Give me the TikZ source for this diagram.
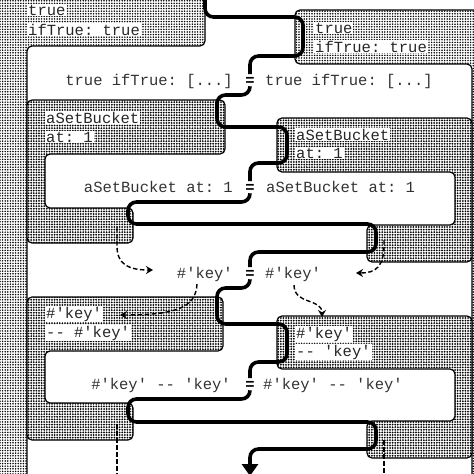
\documentclass[tikz,border=0pt]{standalone}
\usepackage{fontspec}
\setmonofont{Liberation Mono}
\usetikzlibrary{patterns.meta,arrows.meta}
\begin{document}
\begin{tikzpicture}[x=1pt,y=-1pt,
  shadeA/.style={draw=black,line width=1.2pt,rounded corners=5pt,preaction={fill=white},pattern={Dots[distance=2.6pt,radius=0.85pt]}},
  shadeB/.style={draw=black,line width=1.2pt,rounded corners=5pt,preaction={fill=white},pattern={Dots[distance=2.6pt,radius=1.0pt]}},
  lbl/.style={font=\ttfamily\fontsize{15.5}{20}\selectfont,fill=white,inner sep=1pt,anchor=base west,text=black!85},
  bodyl/.style={font=\ttfamily\fontsize{15.5}{20}\selectfont,inner sep=0pt,text=black!80,anchor=base east},
  bodyr/.style={font=\ttfamily\fontsize{15.5}{20}\selectfont,inner sep=0pt,text=black!80,anchor=base west},
  eqs/.style={font=\ttfamily\bfseries\fontsize{15.5}{20}\selectfont,inner sep=0pt,text height=9.2pt,text depth=0pt,minimum height=12pt},
  snake/.style={line width=3.6pt,rounded corners=8.5pt},
  flow/.style={line width=1.4pt,dash pattern=on 4.5pt off 2.5pt,-{Stealth[length=7pt,width=8pt]}},
  flowline/.style={line width=1.4pt,dash pattern=on 4.5pt off 2.5pt}]
\useasboundingbox (0,0) rectangle (474,474);
\clip (0,0) rectangle (474,474);
\fill[white] (0,0) rectangle (474,474);

% shaded frames
\path[shadeA] (-20,-20) -- (205,-20) -- (205,46) -- (27,46) -- (27,500) -- (-20,500) -- cycle;
\path[shadeA] (295,10) -- (500,10) -- (500,500) -- (472,500) -- (472,64) -- (295,64) -- cycle;
\path[shadeB] (27,100) -- (225,100) -- (225,154) -- (45,154) -- (45,208) -- (133,208) -- (133,243) -- (27,243) -- cycle;
\path[shadeB] (277,118) -- (472,118) -- (472,262) -- (367,262) -- (367,225) -- (455,225) -- (455,172) -- (277,172) -- cycle;
\path[shadeB] (27,297) -- (223,297) -- (223,351) -- (45,351) -- (45,403) -- (133,403) -- (133,440) -- (27,440) -- cycle;
\path[shadeB] (277,316) -- (472,316) -- (472,458) -- (367,458) -- (367,421) -- (455,421) -- (455,369) -- (277,369) -- cycle;

% frame labels
\node[lbl] (l0a) at (27,15) {true};
\node[lbl] (l0b) at (27,35) {ifTrue: true};
\node[lbl] (r0a) at (314,33) {true};
\node[lbl] (r0b) at (314,52) {ifTrue: true};
\node[lbl] (l1a) at (45,123) {aSetBucket};
\node[lbl] (l1b) at (45,142) {at: 1};
\node[lbl] (r1a) at (295,140) {aSetBucket};
\node[lbl] (r1b) at (295,158) {at: 1};
\node[lbl] (l2a) at (45,318) {\#'key'};
\node[lbl] (l2b) at (45,337) {-- \#'key'};
\node[lbl] (r2a) at (295,338) {\#'key'};
\node[lbl] (r2b) at (295,356) {-- 'key'};

% body texts
\node[bodyl] (t1l) at (233,85) {true ifTrue: [...]};
\node[bodyr] (t1r) at (265,85) {true ifTrue: [...]};
\node[bodyl] (t2l) at (233,192) {aSetBucket at: 1};
\node[bodyr] (t2r) at (266,192) {aSetBucket at: 1};
\node[bodyl] (t3l) at (233,278) {\#'key'};
\node[bodyr] (t3r) at (265,278) {\#'key'};
\node[bodyl] (t4l) at (231,389) {\#'key' -- 'key'};
\node[bodyr] (t4r) at (263,389) {\#'key' -- 'key'};

% equality signs
\node[eqs] (e1) at (250,80.4) {=};
\node[eqs] (e2) at (250,187.4) {=};
\node[eqs] (e3) at (250,273.4) {=};
\node[eqs] (e4) at (250,384.4) {=};

% dashed flows
\coordinate (d1s) at (117,227);
\coordinate (d1e) at (153,270);
\coordinate (d2s) at (197,284);
\coordinate (d2e) at (120,315);
\coordinate (d3s) at (384,240);
\coordinate (d3e) at (356,273);
\coordinate (d4s) at (294,285);
\coordinate (d4e) at (322,317);
\coordinate (d5s) at (117,424);
\coordinate (d5e) at (117,480);
\coordinate (d6s) at (384,440);
\coordinate (d6e) at (384,480);
\draw[flow] (d1s) -- (117,246) .. controls (117,264) and (128,270) .. (d1e);
\draw[flow] (d2s) .. controls (196,308) and (175,315) .. (d2e);
\draw[flow] (d3s) .. controls (385,268) and (375,273) .. (d3e);
\draw[flow] (d4s) .. controls (294,305) and (322,298) .. (d4e);
\draw[flowline] (d5s) -- (d5e);
\draw[flowline] (d6s) -- (d6e);

% thick path
\coordinate (top) at (205,-10);
\coordinate (bot) at (250,476);
\draw[snake] (top) -- (205,17) -- (303,17) -- (303,56) -- (250,56) -- (e1.north);
\draw[snake] (e1.south) -- (250,95) -- (217,95) -- (217,127) -- (287,127) -- (287,163) -- (250,163) -- (e2.north);
\draw[snake] (e2.south) -- (250,202) -- (128,202) -- (128,224) -- (376,224) -- (376,252) -- (250,252) -- (e3.north);
\draw[snake] (e3.south) -- (250,288) -- (217,288) -- (217,324) -- (287,324) -- (287,362) -- (250,362) -- (e4.north);
\draw[snake,-{Triangle[length=12pt,width=16pt]}] (e4.south) -- (250,399) -- (128,399) -- (128,422) -- (376,422) -- (376,449) -- (250,449) -- (bot);
\end{tikzpicture}
\end{document}
